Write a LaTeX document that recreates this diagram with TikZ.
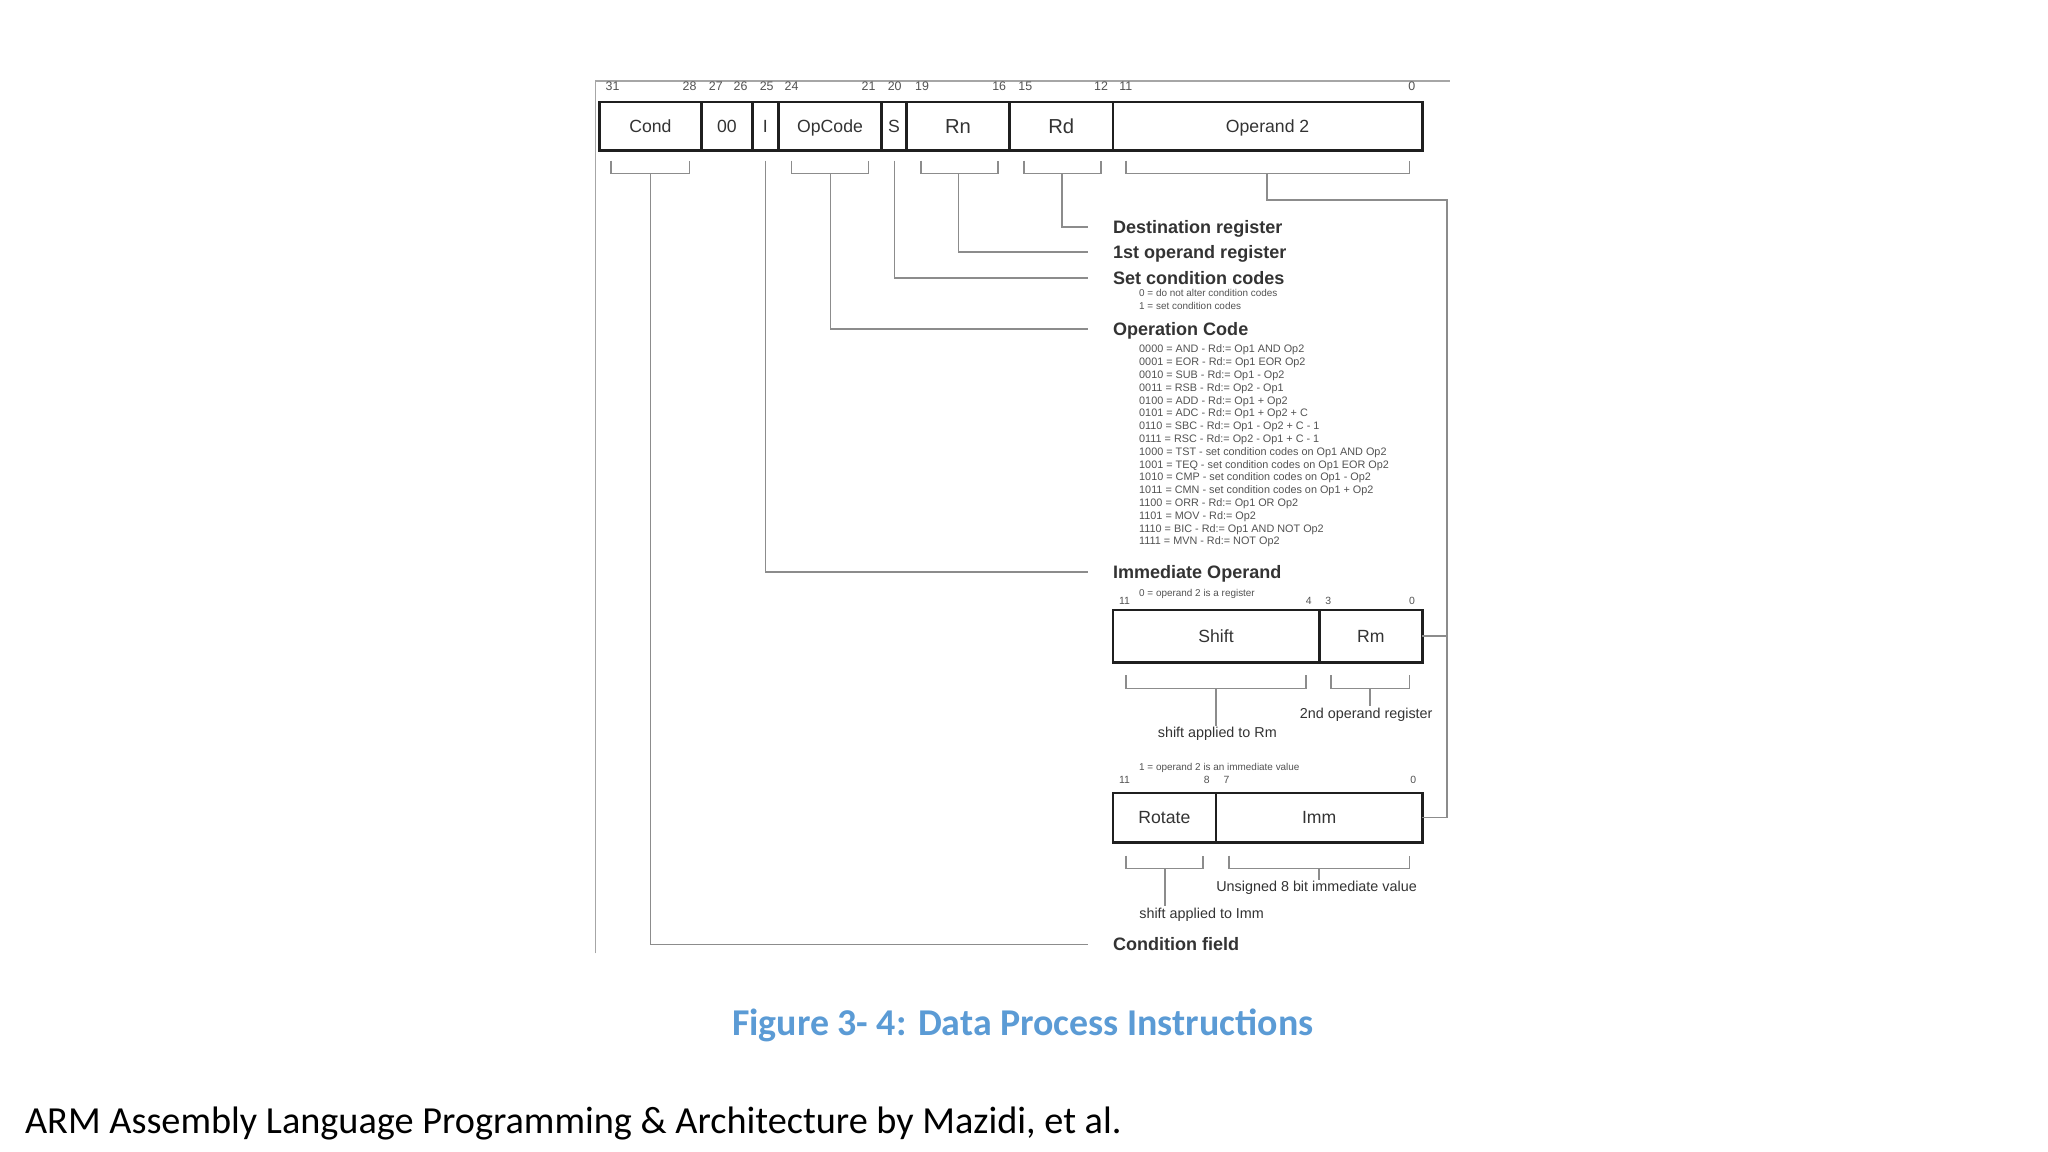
\documentclass[tikz,border=0pt]{standalone}
\usepackage{fontspec}
\setmainfont{Liberation Sans}
\newfontfamily\calfont{Carlito}
\definecolor{txt}{HTML}{333333}
\definecolor{lin}{HTML}{8C8C8C}
\definecolor{capblue}{HTML}{5B9BD5}
\tikzset{
  fld/.style={draw=black!88, line width=2pt, inner sep=0pt, outer sep=0pt, text=txt, text height=10pt, text depth=0.5pt, font=\fontsize{13.5}{15}\selectfont},
  conn/.style={draw=lin, line width=1.2pt},
  lab/.style={anchor=west, inner sep=0pt, text=txt, text height=10pt, text depth=0.5pt, font=\bfseries\fontsize{13.8}{15}\selectfont},
  note/.style={anchor=west, inner sep=0pt, text=txt!85, font=\fontsize{7.6}{9}\selectfont},
  bitn/.style={inner sep=0pt, text=txt!85, font=\fontsize{9.5}{10}\selectfont},
  sub/.style={inner sep=1pt, text=txt, font=\fontsize{11}{12}\selectfont},
  opl/.style={anchor=west, inner sep=0pt, text=txt!85, font=\fontsize{8.3}{9}\selectfont},
}
\newcommand{\brk}[3]{\draw[conn] (#1,#3) -- (#1,#3+10) -- (#2,#3+10) -- (#2,#3);}
\begin{document}
\begin{tikzpicture}[x=1pt,y=-1pt]
\useasboundingbox (0,0) rectangle (1568,882);
% image frame
\draw[draw=gray!70, line width=1pt] (456,730) -- (456,62) -- (1110,62);
% top bit numbers
\foreach \n/\x [count=\i] in {31/469,28/528,27/548,26/567,25/587,24/606,21/665,20/685,19/706,16/765,15/785,12/843,11/862,0/1081}
  \node[bitn] (tb\i) at (\x,66) {\n};
% top fields
\node[fld, minimum width=78pt, minimum height=37pt] (cond) at (498,96.5) {Cond};
\node[fld, minimum width=39pt, minimum height=37pt] (zz) at (556.5,96.5) {00};
\node[fld, minimum width=20pt, minimum height=37pt] (ibit) at (586,96.5) {I};
\node[fld, minimum width=79pt, minimum height=37pt] (opc) at (635.5,96.5) {OpCode};
\node[fld, minimum width=19pt, minimum height=37pt] (sbit) at (684.5,96.5) {S};
\node[fld, minimum width=79pt, minimum height=37pt, text height=11.5pt, font=\fontsize{15.5}{17}\selectfont] (rn) at (733.5,96.5) {Rn};
\node[fld, minimum width=79pt, minimum height=37pt, text height=11.5pt, font=\fontsize{15.5}{17}\selectfont] (rd) at (812.5,96.5) {Rd};
\node[fld, minimum width=237pt, minimum height=37pt] (op2) at (970.5,96.5) {Operand 2};
% brackets under top fields
\brk{468}{528}{123}
\brk{606}{665}{123}
\brk{705}{764}{123}
\brk{784}{843}{123}
\brk{862}{1079}{123}
\coordinate (bcCond) at (498,133);
\coordinate (bcI) at (586,123);
\coordinate (bcOpc) at (636,133);
\coordinate (bcS) at (685,123);
\coordinate (bcRn) at (734,133);
\coordinate (bcRd) at (813,133);
\coordinate (bcOp2) at (970,133);
% labels
\node[lab] (lDest) at (852,174) {Destination register};
\node[lab] (lRn) at (852,193) {1st operand register};
\node[lab] (lS) at (852,213) {Set condition codes};
\node[note] (nS0) at (872,224) {0 = do not alter condition codes};
\node[note] (nS1) at (872,234) {1 = set condition codes};
\node[lab] (lOpc) at (852,252) {Operation Code};
\foreach \t [count=\i from 0] in {
 {0000 = AND - Rd:= Op1 AND Op2},
 {0001 = EOR - Rd:= Op1 EOR Op2},
 {0010 = SUB - Rd:= Op1 - Op2},
 {0011 = RSB - Rd:= Op2 - Op1},
 {0100 = ADD - Rd:= Op1 + Op2},
 {0101 = ADC - Rd:= Op1 + Op2 + C},
 {0110 = SBC - Rd:= Op1 - Op2 + C - 1},
 {0111 = RSC - Rd:= Op2 - Op1 + C - 1},
 {1000 = TST - set condition codes on Op1 AND Op2},
 {1001 = TEQ - set condition codes on Op1 EOR Op2},
 {1010 = CMP - set condition codes on Op1 - Op2},
 {1011 = CMN - set condition codes on Op1 + Op2},
 {1100 = ORR - Rd:= Op1 OR Op2},
 {1101 = MOV - Rd:= Op2},
 {1110 = BIC - Rd:= Op1 AND NOT Op2},
 {1111 = MVN - Rd:= NOT Op2}}
  \node[opl] (opl\i) at (872,268+9.8*\i) {\t};
\node[lab] (lImm) at (852,438) {Immediate Operand};
\node[lab] (lCond) at (852,723) {Condition field};
% connectors to labels
\draw[conn, shorten >=19pt] (bcRd) |- (lDest.west);
\draw[conn, shorten >=19pt] (bcRn) |- (lRn.west);
\draw[conn, shorten >=19pt] (bcS) |- (lS.west);
\draw[conn, shorten >=19pt] (bcOpc) |- (lOpc.west);
\draw[conn, shorten >=19pt] (bcI) |- (lImm.west);
\draw[conn, shorten >=19pt] (bcCond) |- (lCond.west);
% register form of operand 2
\node[note] (nI0) at (872,455) {0 = operand 2 is a register};
\foreach \n/\x [count=\i] in {11/861,4/1002,3/1017,0/1081}
  \node[bitn, font=\fontsize{8}{9}\selectfont] (rb\i) at (\x,460) {\n};
\node[fld, minimum width=158pt, minimum height=40pt] (shift) at (931,487) {Shift};
\node[fld, minimum width=79pt, minimum height=40pt] (rm) at (1049.5,487) {Rm};
\brk{862}{1000}{517}
\brk{1019}{1079}{517}
\coordinate (bcShift) at (931,527);
\coordinate (bcRm) at (1049,527);
\node[sub] (lShift) at (932,562) {shift applied to Rm};
\node[sub] (lRm) at (1046,547) {2nd operand register};
\draw[conn] (bcShift) -- (bcShift |- lShift.north);
\draw[conn] (bcRm) -- (bcRm |- lRm.north);
% immediate form of operand 2
\node[note] (nI1) at (872,588) {1 = operand 2 is an immediate value};
\foreach \n/\x [count=\i] in {11/861,8/924,7/939,0/1082}
  \node[bitn, font=\fontsize{8}{9}\selectfont] (ib\i) at (\x,597) {\n};
\node[fld, minimum width=79pt, minimum height=38pt] (rot) at (891.5,626) {Rotate};
\node[fld, minimum width=158pt, minimum height=38pt] (imm) at (1010,626) {Imm};
\brk{862}{921}{655}
\brk{941}{1079}{655}
\coordinate (bcRot) at (892,665);
\coordinate (bcImm) at (1010,665);
\node[sub] (lImmv) at (1008,680) {Unsigned 8 bit immediate value};
\node[sub] (lRot) at (920,700) {shift applied to Imm};
\draw[conn] (bcImm) -- (bcImm |- lImmv.north);
\draw[conn] (bcRot) -- (bcRot |- lRot.north);
% operand 2 link on the right
\coordinate (rj) at (1108,153);
\draw[conn] (bcOp2) |- (rj) |- (imm.east);
\draw[conn] (rm.east) -- (rm.east -| rj);
% caption and credit
\node[inner sep=0pt, text=capblue, font=\calfont\bfseries\fontsize{29}{34}\selectfont] (cap) at (783,785) {Figure 3- 4: Data Process Instructions};
\node[anchor=west, inner sep=0pt, text=black, font=\calfont\fontsize{29.3}{34}\selectfont] (cred) at (19,860) {ARM Assembly Language Programming \& Architecture by Mazidi, et al.};
\end{tikzpicture}
\end{document}
